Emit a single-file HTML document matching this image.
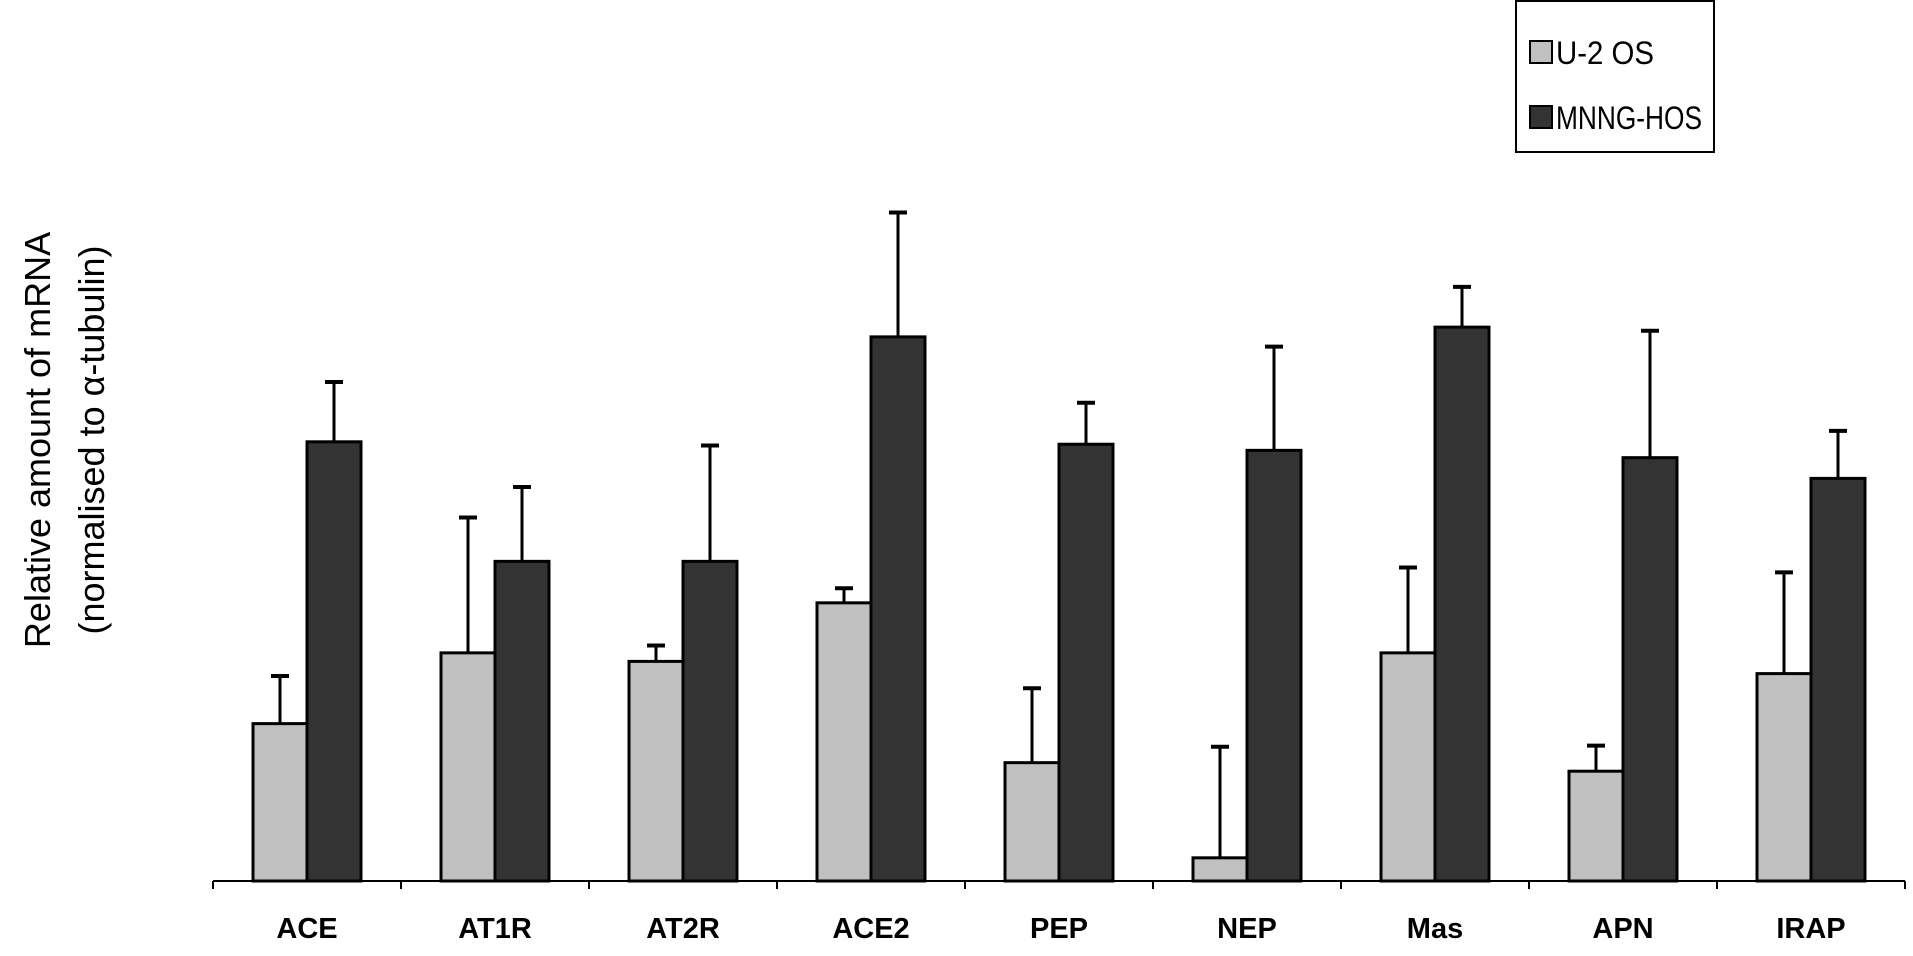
<!DOCTYPE html>
<html><head><meta charset="utf-8"><style>
body{margin:0;background:#fff;}
svg{display:block;font-family:"Liberation Sans",sans-serif;}
</style></head><body>
<svg width="1913" height="956">
<g id="chart"></g>
<g>
<rect x="1516" y="1" width="198" height="151" fill="#fff" stroke="#000" stroke-width="2"/>
<rect x="1530" y="41" width="22" height="22" fill="#c0c0c0" stroke="#000" stroke-width="2"/>
<text x="1556" y="64" font-size="32" textLength="98" lengthAdjust="spacingAndGlyphs">U-2 OS</text>
<rect x="1530" y="106" width="22" height="22" fill="#333" stroke="#000" stroke-width="2"/>
<text x="1556" y="129" font-size="32" textLength="146" lengthAdjust="spacingAndGlyphs">MNNG-HOS</text>
</g>
<g font-size="36">
<text transform="translate(50,440) rotate(-90)" text-anchor="middle">Relative amount of mRNA</text>
<text transform="translate(104,440) rotate(-90)" text-anchor="middle">(normalised to α-tubulin)</text>
</g>
</svg>
<script>
const categories=["ACE","AT1R","AT2R","ACE2","PEP","NEP","Mas","APN","IRAP"];
const u2os=[1.29,1.87,1.80,2.28,0.97,0.19,1.87,0.90,1.70];
const u2osErr=[0.39,1.11,0.13,0.12,0.61,0.91,0.70,0.21,0.83];
const mnng=[3.60,2.62,2.62,4.46,3.58,3.53,4.54,3.47,3.30];
const mnngErr=[0.49,0.61,0.95,1.02,0.34,0.85,0.33,1.04,0.39];
const NS="http://www.w3.org/2000/svg";
const g=document.getElementById('chart');
const x0=213,catW=188,barW=54,base=881,unit=122;
const yS=v=>base-v*unit;
function mk(t,a){const e=document.createElementNS(NS,t);for(const k in a)e.setAttribute(k,a[k]);g.appendChild(e);return e;}
categories.forEach((c,i)=>{
  const cx=x0+i*catW+catW/2;
  [[u2os,u2osErr,'#c0c0c0',cx-barW,'u2os'],[mnng,mnngErr,'#333333',cx,'mnng-hos']].forEach(([vals,errs,fill,x,nm])=>{
    const v=vals[i],e=errs[i];
    const ln=mk('line',{x1:x+barW/2,x2:x+barW/2,y1:yS(v),y2:yS(v+e),stroke:'#000','stroke-width':3});
    
    
    const cap=mk('line',{x1:x+barW/2-9,x2:x+barW/2+9,y1:yS(v+e),y2:yS(v+e),stroke:'#000','stroke-width':4});
    
    
    const r=mk('rect',{x:x,y:yS(v),width:barW,height:v*unit,fill:fill,stroke:'#000','stroke-width':3});
    
    
  });
  const t=mk('text',{x:cx,y:938,'text-anchor':'middle','font-size':29,'font-weight':'bold'});
  t.textContent=c;
  
  
  const tk=mk('line',{x1:x0+i*catW,x2:x0+i*catW,y1:base,y2:base+8,stroke:'#000','stroke-width':2});
  
  
});
const tk2=mk('line',{x1:x0+9*catW,x2:x0+9*catW,y1:base,y2:base+8,stroke:'#000','stroke-width':2});


const ax=mk('line',{x1:x0,x2:x0+9*catW,y1:base,y2:base,stroke:'#000','stroke-width':2});


</script>
</body></html>
